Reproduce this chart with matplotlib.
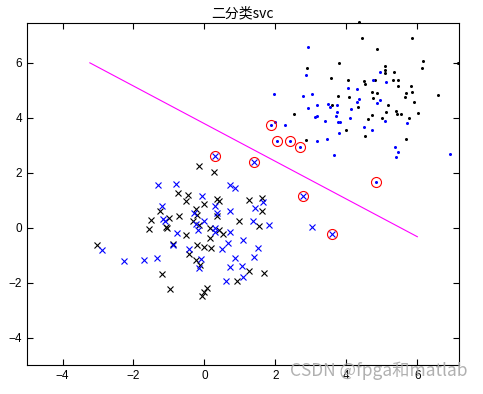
import matplotlib.pyplot as plt

plt.rcParams['font.family'] = ['Liberation Sans', 'Noto Sans CJK SC', 'DejaVu Sans']

# class 1 (crosses), black
cross_k_x = [-0.16, 0.26, -0.75, -0.47, -0.51, -0.02, 0.36, 0.40, 1.25, 1.62, 1.62, -1.26,
             -0.25, -0.21, -1.0, -0.72, -1.5, -1.56, -1.05, -0.32, -0.16, 0.34, 0.96, 1.53,
             0.17, 0.40, 0.52, 0.15, -0.51, -0.88, -0.21, 0.0, 0.19, -0.44, -0.25, -0.13,
             1.25, 1.69, 0.92, -1.19, -0.96, -0.07, 0.07, 0.0, -3.03, -1.07]
cross_k_y = [2.25, 2.03, 1.26, 1.2, 0.96, 0.87, 1.04, 0.96, 0.99, 1.08, 0.59, 0.59,
             0.68, 0.47, 0.35, 0.44, 0.29, -0.04, -0.01, 0.23, 0.11, 0.41, 0.25, 0.07,
             -0.01, -0.07, -0.22, -0.38, -0.25, -0.58, -0.62, -0.7, -0.74, -0.95, -1.16, -1.35,
             -1.59, -1.65, -1.95, -1.68, -2.25, -2.47, -2.19, -2.34, -0.62, 0.03]

# class 1 (crosses), blue
cross_b_x = [-1.31, -0.8, 0.71, 0.87, -0.07, -1.21, -1.17, -1.1, -0.3, -0.25, -0.18, -0.02,
             0.31, 0.34, 0.31, 0.73, 1.43, 1.65, 1.38, 1.83, 0.71, 0.31, -0.77, -0.88,
             -0.44, 0.67, 1.1, 0.5, 1.5, -0.11, -0.14, 0.85, 1.41, 0.73, 1.06, 1.1,
             0.62, -1.33, -1.7, -2.27, -2.89, 3.04]
cross_b_y = [1.56, 1.6, 1.56, 1.44, 1.14, 0.78, 0.32, 0.23, 0.53, 0.15, -0.07, 0.23,
             0.78, 0.53, -0.01, 0.59, 0.72, 0.92, 0.23, 0.11, -0.17, -0.17, -0.19, -0.62,
             -0.77, -0.56, -0.44, -0.77, -0.74, -1.14, -1.47, -1.1, -1.07, -1.43, -1.38, -1.79,
             -1.93, -1.1, -1.16, -1.2, -0.8, 0.03]

# class 2 (dots), black
dot_k_x = [4.36, 4.45, 5.86, 4.85, 6.15, 6.14, 7.16, 3.79, 2.88, 3.57, 4.05, 4.49,
           4.53, 4.82, 5.08, 5.08, 5.09, 5.34, 5.32, 5.46, 5.46, 5.67, 5.83, 5.84,
           5.66, 5.9, 6.59, 4.71, 4.87, 3.75, 4.07, 4.76, 5.18, 3.6, 4.32, 5.41,
           5.43, 5.55, 5.13, 4.73, 4.62, 5.0, 5.76, 6.01, 2.51, 3.99, 4.52, 5.68, 2.87]
dot_k_y = [7.47, 6.91, 6.9, 6.52, 6.07, 5.81, 5.99, 6.01, 5.83, 5.45, 5.36, 5.35,
           5.24, 5.38, 5.9, 5.75, 5.62, 5.65, 5.36, 5.36, 5.14, 4.92, 5.14, 4.95,
           4.74, 4.56, 4.82, 4.95, 4.9, 4.8, 4.74, 4.72, 4.46, 4.47, 4.41, 4.25,
           4.13, 4.12, 4.2, 4.11, 3.96, 3.99, 3.99, 4.17, 4.15, 3.56, 3.32, 3.23, 3.2]

# class 2 (dots), blue
dot_b_x = [2.93, 2.85, 1.95, 2.79, 3.03, 2.93, 3.18, 3.47, 3.54, 3.73, 4.04, 4.31,
           4.35, 4.29, 4.12, 4.74, 4.96, 5.13, 4.96, 4.85, 3.73, 3.71, 3.12, 3.17, 3.4,
           3.76, 3.82, 4.1, 3.8, 4.5, 4.71, 5.1, 5.72, 2.26, 3.17, 3.45, 3.65,
           5.37, 5.45, 5.39, 6.92, 1.99]
dot_b_y = [6.56, 5.55, 4.88, 4.81, 4.85, 4.35, 4.47, 4.5, 4.41, 4.47, 5.07, 5.05,
           4.69, 4.59, 4.33, 5.38, 5.68, 5.3, 4.65, 4.53, 4.21, 4.05, 4.03, 4.08, 3.9,
           3.84, 3.86, 3.99, 3.44, 3.68, 3.56, 3.89, 3.81, 3.72, 3.17, 3.24, 2.65,
           2.92, 2.76, 2.58, 2.69, 3.83]

# support vectors
sv_cross_x = [0.31, 1.41, 2.77, 3.59]
sv_cross_y = [2.62, 2.38, 1.14, -0.22]
sv_dot_x = [1.87, 2.04, 2.42, 2.68, 4.83]
sv_dot_y = [3.73, 3.16, 3.17, 2.92, 1.68]

# separating line
line_x = [-3.23, 6.0]
line_y = [6.0, -0.33]

fig = plt.figure(figsize=(4.83, 3.94), dpi=100)
ax = fig.add_axes([0.056, 0.0736, 0.894, 0.868])

ax.plot(cross_k_x, cross_k_y, 'x', color='black', markersize=5, markeredgewidth=0.8)
ax.plot(cross_b_x + sv_cross_x, cross_b_y + sv_cross_y, 'x', color='blue',
        markersize=5, markeredgewidth=0.8)
ax.plot(dot_k_x, dot_k_y, 'o', color='black', markersize=2.2, markeredgewidth=0,
        clip_on=False)
ax.plot(dot_b_x + sv_dot_x, dot_b_y + sv_dot_y, 'o', color='blue', markersize=2.2,
        markeredgewidth=0, clip_on=False)
ax.plot(sv_cross_x + sv_dot_x, sv_cross_y + sv_dot_y, 'o', markerfacecolor='none',
        markeredgecolor='red', markersize=7.2, markeredgewidth=0.8)
ax.plot(line_x, line_y, color='magenta', linewidth=0.8)

ax.set_xlim(-5, 7.17)
ax.set_ylim(-5, 7.45)
ax.set_xticks([-4, -2, 0, 2, 4, 6])
ax.set_yticks([-4, -2, 0, 2, 4, 6])
ax.tick_params(direction='in', top=True, right=True, labelsize=8.5, length=4, width=0.8)
for s in ax.spines.values():
    s.set_linewidth(0.8)

ax.set_title('二分类svc', fontsize=10, pad=4, family=['Noto Sans CJK SC', 'DejaVu Sans'])

# watermark, it sits over the tick labels in the original too
fig.text(0.968, 0.035, 'CSDN @fpga和matlab', ha='right', va='bottom', fontsize=12.5,
         color='#a8a8a8', alpha=0.9, family=['Noto Sans CJK SC', 'DejaVu Sans'])

fig.savefig('out.png', dpi=100)
